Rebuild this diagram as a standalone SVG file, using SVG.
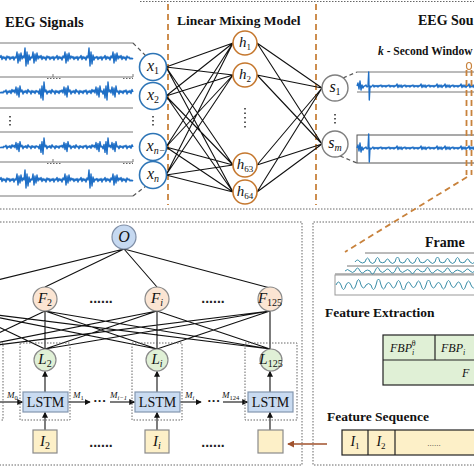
<svg xmlns="http://www.w3.org/2000/svg" width="474" height="474" viewBox="0 0 474 474">
<style>
.t{font-family:"Liberation Serif","Times New Roman","DejaVu Serif",serif;font-weight:bold;fill:#111}
.m{font-family:"Liberation Serif","Times New Roman","DejaVu Serif",serif;font-style:italic;fill:#111}
.r{font-family:"Liberation Serif","Times New Roman","DejaVu Serif",serif;fill:#111}
.u{font-style:normal}
.dot{fill:none;stroke:#666;stroke-width:1;stroke-dasharray:1.5 1.5}
.od{fill:none;stroke:#c8823c;stroke-width:1.8;stroke-dasharray:6 4}
.gd{fill:none;stroke:#555;stroke-width:1.2;stroke-dasharray:4 3}
.ln{stroke:#111;stroke-width:1.1;fill:none}
.gl{stroke:#777;stroke-width:1;fill:none}
.xc{fill:#fff;stroke:#2e75b6;stroke-width:1.6}
.hc{fill:#fff;stroke:#c5782f;stroke-width:1.6}
.sc{fill:#fff;stroke:#7f7f7f;stroke-width:1.4}
.eeg{fill:none;stroke:#1f6fc6;stroke-width:1.4;stroke-linejoin:round}
.wv{fill:none;stroke:#3a8ea8;stroke-width:1}
.oc{fill:#c6d9f1;stroke:#7f8ea6;stroke-width:1.2}
.fc{fill:#fbe5d3;stroke:#8a8a8a;stroke-width:1.2}
.lc{fill:#e0f0d6;stroke:#8a8a8a;stroke-width:1.2}
.lstm{fill:#c9dbf1;stroke:#8497b0;stroke-width:1.2}
.ib{fill:#fdf0c8;stroke:#8a8a8a;stroke-width:1.2}
.arr{stroke:#111;stroke-width:1.1;fill:none;marker-end:url(#ah)}
.dd{font-family:"Liberation Sans",Arial,sans-serif;font-weight:bold;fill:#222}
</style>
<defs>
<marker id="ah" viewBox="0 0 8 8" refX="7" refY="4" markerWidth="6" markerHeight="6" orient="auto" markerUnits="userSpaceOnUse"><path d="M0,0 L8,4 L0,8 z" fill="#111"/></marker>
<marker id="ahb" viewBox="0 0 8 8" refX="7" refY="4" markerWidth="7" markerHeight="7" orient="auto" markerUnits="userSpaceOnUse"><path d="M0,0 L8,4 L0,8 z" fill="#a0522d"/></marker>
<path id="eeg" class="eeg" d="M0,0 l1,-2.5 1,4 1,-3 1,2 1,-1.5 1,3 1,-4 1,2 l1,-1.5 1,3 1,-2.5 1,1.5 1,-2 1,3.5 1,-3 1,1 l1,-6 1,11 1,-9 1,7 1,-8 1,6 1,-3 1,2 l1,-10 1,18 1,-14 1,12 1,-9 1,5 1,-3 1,1 l1,-6 1,11 1,-9 1,7 1,-8 1,6 1,-3 1,2 l1,-2.5 1,4 1,-3 1,2 1,-1.5 1,3 1,-4 1,2 l1,-1.5 1,3 1,-2.5 1,1.5 1,-2 1,3.5 1,-3 1,1 l1,-2.5 1,4 1,-3 1,2 1,-1.5 1,3 1,-4 1,2 l1,-6 1,11 1,-9 1,7 1,-8 1,6 1,-3 1,2 l1,-1.5 1,3 1,-2.5 1,1.5 1,-2 1,3.5 1,-3 1,1 l1,-2.5 1,4 1,-3 1,2 1,-1.5 1,3 1,-4 1,2 l1,-10 1,18 1,-14 1,12 1,-9 1,5 1,-3 1,1 l1,-1.5 1,3 1,-2.5 1,1.5 1,-2 1,3.5 1,-3 1,1 l1,-2.5 1,4 1,-3 1,2 1,-1.5 1,3 1,-4 1,2 l1,-6 1,11 1,-9 1,7 1,-8 1,6 1,-3 1,2 l1,-2.5 1,4 1,-3 1,2 1,-1.5 1,3 1,-4 1,2 l1,-1 1,2 1,-1 1,1 1,-1"/>
<path id="src" class="eeg" d="M0,0 l1,-3 1,6 1,-8 1,9 1,-5 1,3 1,-2 1,0 l1,-1 1,2 1,-1 l0.7,-14 0.6,28 0.7,-14 l1,1 1,-1 l1,-1 1,2 1,-1.5 1,1 1,-1 1,1.5 1,-1.5 1,0.5 l1,-1 1,2 1,-1.5 1,1 1,-1 1,1.5 1,-1.5 1,0.5 l1,-1 1,2 1,-1.5 1,1 1,-1 1,1.5 1,-1.5 1,0.5 l1,-2 1,3.5 1,-2.5 1,2 1,-2 1,2.5 1,-2 1,0.5 l1,-1 1,2 1,-1.5 1,1 1,-1 1,1.5 1,-1.5 1,0.5 l1,-1 1,2 1,-1.5 1,1 1,-1 1,1.5 1,-1.5 1,0.5 l1,-2 1,3.5 1,-2.5 1,2 1,-2 1,2.5 1,-2 1,0.5 l1,-1 1,2 1,-1.5 1,1 1,-1 1,1.5 1,-1.5 1,0.5 l1,-2 1,3.5 1,-2.5 1,2 1,-2 1,2.5 1,-2 1,0.5 l1,-2 1,3.5 1,-2.5 1,2 1,-2 1,2.5 1,-2 1,0.5 l1,-1 1,2 1,-1.5 1,1 1,-1 1,1.5 1,-1.5 1,0.5 l1,-2 1,3.5 1,-2.5 1,2 1,-2 1,2.5 1,-2 1,0.5 l1,-2 1,3.5 1,-2.5 1,2 1,-2 1,2.5 1,-2 1,0.5"/>
</defs>

<rect width="474" height="474" fill="#fff"/>

<!-- panel borders -->
<g id="panels">
<line class="dot" x1="140" y1="1.5" x2="474" y2="1.5"/>
<line class="dot" x1="0" y1="209" x2="474" y2="209"/>
<path class="dot" d="M0,222 H302 V465 H0"/>
<path class="dot" d="M474,222 H313 V465 H474"/>
<line class="od" x1="168" y1="4" x2="168" y2="205"/>
<line class="od" x1="316" y1="4" x2="316" y2="205"/>
</g>

<!-- titles -->
<g id="titles">
<text class="t" x="5" y="27" font-size="14.5">EEG Signals</text>
<text class="t" x="177" y="25" font-size="13.5">Linear Mixing Model</text>
<text class="t" x="418" y="25" font-size="14">EEG Sou</text>
<text class="t" x="378" y="55" font-size="11.5"><tspan font-style="italic">k</tspan> - Second Window</text>
<text class="t" x="425" y="247" font-size="14">Frame</text>
<text class="t" x="325" y="317" font-size="13.5">Feature Extraction</text>
<text class="t" x="327" y="421" font-size="13.5">Feature Sequence</text>
</g>

<!-- EEG signal strips -->
<g id="eeg-signals">
<line class="gl" x1="0" y1="43" x2="133" y2="43"/>
<line class="gl" x1="0" y1="77" x2="133" y2="77"/>
<line class="gl" x1="0" y1="108" x2="133" y2="108" stroke="#bbb"/>
<line class="gl" x1="0" y1="132" x2="133" y2="132" stroke="#444"/>
<line class="gl" x1="0" y1="162" x2="133" y2="162"/>
<line class="gl" x1="0" y1="196" x2="133" y2="196"/>
<path class="gl" d="M53,74 v3 M133,74 v3 M53,159 v3 M133,159 v3"/>
<path class="dot" d="M47,78.5 h14 M123,78.5 h10 M47,163.5 h14 M123,163.5 h10"/>
<use href="#eeg" x="0" y="58"/>
<use href="#eeg" transform="translate(133,92) scale(-1,1)"/>
<use href="#eeg" transform="translate(133,147) scale(-1,0.9)"/>
<use href="#eeg" x="0" y="180"/>
<path d="M10,116 v1.5 M10,120 v1.5 M10,124 v1.5" stroke="#333" stroke-width="1.6"/>
<path d="M153,116 v1.5 M153,120 v1.5 M153,124 v1.5" stroke="#333" stroke-width="1.6"/>
<line class="gd" x1="133" y1="43" x2="146" y2="56"/>
<line class="gd" x1="133" y1="196" x2="146" y2="186"/>
</g>

<!-- source strips -->
<g id="eeg-sources">
<line class="gl" x1="357" y1="72" x2="474" y2="72" stroke="#555"/>
<line class="gl" x1="357" y1="92" x2="474" y2="92" stroke="#555"/>
<use href="#src" x="357" y="86"/>
<rect x="357" y="135" width="120" height="28" fill="none" stroke="#555" stroke-width="1"/>
<use href="#src" x="357" y="148"/>
<line class="gd" x1="343" y1="78" x2="357" y2="72"/>
<line class="gd" x1="340" y1="156" x2="357" y2="163"/>
<path d="M335,114 v1.5 M335,118 v1.5 M335,122 v1.5" stroke="#333" stroke-width="1.6"/>
<ellipse cx="469" cy="66" rx="2.5" ry="3.5" fill="none" stroke="#c8823c" stroke-width="1.2"/>
<line class="od" x1="466.5" y1="70" x2="466.5" y2="175" stroke-width="1.8" stroke-dasharray="5 3"/>
<line class="od" x1="471.5" y1="70" x2="471.5" y2="175" stroke-width="1.8" stroke-dasharray="5 3"/>
<line class="od" x1="467" y1="177" x2="345" y2="252" stroke-width="2.2"/>
</g>

<!-- connectors -->
<g id="connectors">
<g class="ln">
<path d="M166,67 L233,43 M166,67 L233,75 M166,67 L233,165 M166,67 L233,192
M166,96 L233,43 M166,96 L233,75 M166,96 L233,165 M166,96 L233,192
M166,147 L233,43 M166,147 L233,75 M166,147 L233,165 M166,147 L233,192
M166,175 L233,43 M166,175 L233,75 M166,175 L233,165 M166,175 L233,192"/>
<path d="M257,43 L322,88 M257,43 L322,144 M257,75 L322,88 M257,75 L322,144
M257,165 L322,88 M257,165 L322,144 M257,192 L322,88 M257,192 L322,144"/>
<path d="M124,249 L-35,288 M124,249 L45,287 M124,249 L157,287 M124,249 L270,288"/>
<path d="M-35,311 L-35,349 M-35,311 L45,349 M-35,311 L157,349 M-35,311 L270,349
M45,311 L-35,349 M45,311 L45,349 M45,311 L157,349 M45,311 L270,349
M157,311 L-35,349 M157,311 L45,349 M157,311 L157,349 M157,311 L270,349
M270,311 L-35,349 M270,311 L45,349 M270,311 L157,349 M270,311 L270,349"/>
</g>
<line class="arr" x1="45" y1="430" x2="45" y2="412.5"/>
<line class="arr" x1="157" y1="430" x2="157" y2="412.5"/>
<line class="arr" x1="270" y1="430" x2="270" y2="412.5"/>
<line class="arr" x1="45" y1="392" x2="45" y2="371.5"/>
<line class="arr" x1="157" y1="392" x2="157" y2="371.5"/>
<line class="arr" x1="270" y1="392" x2="270" y2="371.5"/>
<line class="arr" x1="0" y1="402" x2="22.5" y2="402"/>
<line class="arr" x1="68" y1="402" x2="90" y2="402"/>
<line class="arr" x1="110" y1="402" x2="134.5" y2="402"/>
<line class="arr" x1="180" y1="402" x2="201" y2="402"/>
<line class="arr" x1="223" y1="402" x2="247.5" y2="402"/>
<line x1="327" y1="444" x2="288" y2="444" stroke="#a0522d" stroke-width="1.5" marker-end="url(#ahb)"/>
</g>

<!-- x nodes -->
<g id="x1"><circle class="xc" cx="153" cy="67" r="13.5"/><text class="m" x="153" y="71" text-anchor="middle" font-size="16">x<tspan class="u" font-size="10" dy="3">1</tspan></text></g>
<g id="x2"><circle class="xc" cx="153" cy="96" r="13.5"/><text class="m" x="153" y="100" text-anchor="middle" font-size="16">x<tspan class="u" font-size="10" dy="3">2</tspan></text></g>
<g id="xn1"><circle class="xc" cx="153" cy="147" r="13.5"/><text class="m" x="156" y="151" text-anchor="middle" font-size="16">x<tspan font-size="10" dy="3">n−</tspan></text></g>
<g id="xn"><circle class="xc" cx="153" cy="175" r="13.5"/><text class="m" x="153" y="179" text-anchor="middle" font-size="16">x<tspan font-size="10" dy="3">n</tspan></text></g>

<!-- h nodes -->
<g id="h1"><circle class="hc" cx="245" cy="43" r="12"/><text class="m" x="245" y="47" text-anchor="middle" font-size="15">h<tspan class="u" font-size="9" dy="3">1</tspan></text></g>
<g id="h2"><circle class="hc" cx="245" cy="75" r="12"/><text class="m" x="245" y="79" text-anchor="middle" font-size="15">h<tspan class="u" font-size="9" dy="3">2</tspan></text></g>
<path d="M245,108 v1.5 M245,112.5 v1.5 M245,117 v1.5 M245,121.5 v1.5 M245,126 v1.5" stroke="#333" stroke-width="1.6"/>
<g id="h63"><circle class="hc" cx="245" cy="165" r="12"/><text class="m" x="245" y="169" text-anchor="middle" font-size="15">h<tspan class="u" font-size="9" dy="3">63</tspan></text></g>
<g id="h64"><circle class="hc" cx="245" cy="192" r="12"/><text class="m" x="245" y="196" text-anchor="middle" font-size="15">h<tspan class="u" font-size="9" dy="3">64</tspan></text></g>

<!-- s nodes -->
<g id="s1"><circle class="sc" cx="335" cy="88" r="13"/><text class="m" x="335" y="92" text-anchor="middle" font-size="16">s<tspan class="u" font-size="10" dy="3">1</tspan></text></g>
<g id="sm"><circle class="sc" cx="335" cy="144" r="13"/><text class="m" x="335" y="148" text-anchor="middle" font-size="16">s<tspan font-size="10" dy="3">m</tspan></text></g>

<!-- O and F nodes -->
<g id="O"><circle class="oc" cx="124" cy="237" r="12"/><text class="m" x="124" y="242" text-anchor="middle" font-size="16">O</text></g>
<g id="F2"><circle class="fc" cx="45" cy="299" r="12"/><text class="m" x="45" y="303" text-anchor="middle" font-size="15">F<tspan class="u" font-size="10" dy="3">2</tspan></text></g>
<g id="Fi"><circle class="fc" cx="157" cy="299" r="12"/><text class="m" x="157" y="303" text-anchor="middle" font-size="15">F<tspan font-size="10" dy="3">i</tspan></text></g>
<g id="F125"><circle class="fc" cx="270" cy="299" r="12"/><text class="m" x="270" y="303" text-anchor="middle" font-size="15">F<tspan class="u" font-size="10" dy="3">125</tspan></text></g>
<text class="dd" x="101" y="303" text-anchor="middle" font-size="14">......</text>
<text class="dd" x="213" y="303" text-anchor="middle" font-size="14">......</text>

<!-- LSTM units -->
<g id="unit1"><rect class="dot" x="-40" y="343" width="43" height="77"/></g>
<g id="unit2">
<rect class="dot" x="20" y="343" width="50" height="77"/>
<circle class="lc" cx="45" cy="360" r="11"/><text class="m" x="45" y="364" text-anchor="middle" font-size="15">L<tspan class="u" font-size="10" dy="3">2</tspan></text>
<rect class="lstm" x="23" y="392" width="45" height="20"/><text class="r" x="45.5" y="407" text-anchor="middle" font-size="14">LSTM</text>
</g>
<g id="uniti">
<rect class="dot" x="132" y="343" width="50" height="77"/>
<circle class="lc" cx="157" cy="360" r="11"/><text class="m" x="157" y="364" text-anchor="middle" font-size="15">L<tspan font-size="10" dy="3">i</tspan></text>
<rect class="lstm" x="135" y="392" width="45" height="20"/><text class="r" x="157.5" y="407" text-anchor="middle" font-size="14">LSTM</text>
</g>
<g id="unit125">
<rect class="dot" x="245" y="343" width="52" height="77"/>
<circle class="lc" cx="271" cy="360" r="11"/><text class="m" x="271" y="364" text-anchor="middle" font-size="15">L<tspan class="u" font-size="10" dy="3">125</tspan></text>
<rect class="lstm" x="248" y="392" width="45" height="20"/><text class="r" x="270.5" y="407" text-anchor="middle" font-size="14">LSTM</text>
</g>
<g id="mlabels" class="m" font-size="9">
<text x="7" y="398">M<tspan class="u" font-size="6.5" dy="2">0</tspan></text>
<text x="73" y="398">M<tspan class="u" font-size="6.5" dy="2">1</tspan></text>
<text x="110" y="398">M<tspan font-size="6.5" dy="2">i−1</tspan></text>
<text x="185" y="398">M<tspan font-size="6.5" dy="2">i</tspan></text>
<text x="222" y="398">M<tspan class="u" font-size="6.5" dy="2">124</tspan></text>
</g>
<text class="dd" x="100" y="405" text-anchor="middle" font-size="13">···</text>
<text class="dd" x="214" y="405" text-anchor="middle" font-size="13">···</text>

<!-- input boxes -->
<g id="I2"><rect class="ib" x="33" y="430" width="24" height="23"/><text class="m" x="45" y="446" text-anchor="middle" font-size="15">I<tspan class="u" font-size="10" dy="3">2</tspan></text></g>
<g id="Ii"><rect class="ib" x="145" y="430" width="24" height="23"/><text class="m" x="157" y="446" text-anchor="middle" font-size="15">I<tspan font-size="10" dy="3">i</tspan></text></g>
<g id="I125"><rect class="ib" x="258" y="430" width="25" height="23"/></g>
<text class="dd" x="101" y="447" text-anchor="middle" font-size="14">......</text>
<text class="dd" x="213" y="447" text-anchor="middle" font-size="14">......</text>

<!-- frame -->
<g id="frame">
<line class="gl" x1="365" y1="253" x2="474" y2="253"/>
<line class="gl" x1="347" y1="266" x2="474" y2="266"/>
<line class="gl" x1="335" y1="274" x2="474" y2="274" stroke="#444"/>
<rect x="335" y="275" width="145" height="20" fill="none" stroke="#999" stroke-width="1"/>
<path class="wv" d="M355,262 q2.5,-4 5,0 q2.5,2 5,0 q2.5,-8 5,0 q2.5,3 5,0 q2.5,-9 5,0 q2.5,1.5 5,0 q2.5,-6 5,0 q2.5,3 5,0 q2.5,-10 5,0 q2.5,2 5,0 q2.5,-7 5,0 q2.5,3 5,0 q2.5,-9 5,0 q2.5,1.5 5,0 q2.5,-5 5,0 q2.5,3 5,0 q2.5,-10 5,0 q2.5,1.5 5,0 q2.5,-7 5,0 q2.5,3 5,0 q2.5,-9 5,0 q2.5,1.5 5,0 q2.5,-6 5,0 q2.5,3 5,0"/>
<path class="wv" d="M345,271 q2.5,-3 5,0 q2.5,3 5,0 q2.5,-6 5,0 q2.5,4 5,0 q2.5,-2 5,0 q2.5,6 5,0 q2.5,-7 5,0 q2.5,3 5,0 q2.5,-4 5,0 q2.5,4 5,0 q2.5,-8 5,0 q2.5,3 5,0 q2.5,-3 5,0 q2.5,5 5,0 q2.5,-4 5,0 q2.5,2 5,0 q2.5,-7 5,0 q2.5,4 5,0 q2.5,-3 5,0 q2.5,3 5,0 q2.5,-6 5,0 q2.5,4 5,0 q2.5,-2 5,0 q2.5,3 5,0 q2.5,-4 5,0 q2.5,3 5,0"/>
<path class="wv" d="M336,285 q2.5,-6 5,0 q2.5,9 5,0 q2.5,-5 5,0 q2.5,8 5,0 q2.5,-11 5,0 q2.5,6 5,0 q2.5,-3 5,0 q2.5,9 5,0 q2.5,-12 5,0 q2.5,8 5,0 q2.5,-5 5,0 q2.5,6 5,0 q2.5,-9 5,0 q2.5,10 5,0 q2.5,-6 5,0 q2.5,5 5,0 q2.5,-8 5,0 q2.5,9 5,0 q2.5,-10 5,0 q2.5,6 5,0 q2.5,-5 5,0 q2.5,8 5,0 q2.5,-9 5,0 q2.5,5 5,0 q2.5,-6 5,0 q2.5,9 5,0 q2.5,-8 5,0 q2.5,6 5,0"/>
</g>

<!-- feature table -->
<g id="feature-table">
<rect x="383" y="335" width="95" height="50" fill="#e0f0d6" stroke="#222" stroke-width="1.2"/>
<line x1="383" y1="360" x2="478" y2="360" stroke="#222" stroke-width="1.2"/>
<line x1="435" y1="335" x2="435" y2="360" stroke="#222" stroke-width="1.2"/>
<text class="m" x="390" y="352" font-family="Liberation Sans, Arial, sans-serif" font-size="12">FBP<tspan font-size="8" dy="3">i</tspan><tspan class="u" font-size="8" dx="-2.5" dy="-9">θ</tspan></text>
<text class="m" x="441" y="352" font-family="Liberation Sans, Arial, sans-serif" font-size="12">FBP<tspan font-size="8" dy="3">i</tspan></text>
<text class="m" x="462" y="377" font-family="Liberation Sans, Arial, sans-serif" font-size="12">F</text>
</g>

<!-- feature sequence -->
<g id="feature-sequence">
<rect x="342" y="430" width="136" height="25" fill="#fdf0c8" stroke="#222" stroke-width="1.2"/>
<line x1="368" y1="430" x2="368" y2="455" stroke="#222" stroke-width="1.2"/>
<line x1="395" y1="430" x2="395" y2="455" stroke="#222" stroke-width="1.2"/>
<text class="m" x="355" y="446" text-anchor="middle" font-size="14">I<tspan class="u" font-size="9" dy="3">1</tspan></text>
<text class="m" x="381" y="446" text-anchor="middle" font-size="14">I<tspan class="u" font-size="9" dy="3">2</tspan></text>
<text x="434" y="446" text-anchor="middle" font-family="Liberation Sans, Arial, sans-serif" font-size="8" fill="#333">......</text>
</g>
</svg>
